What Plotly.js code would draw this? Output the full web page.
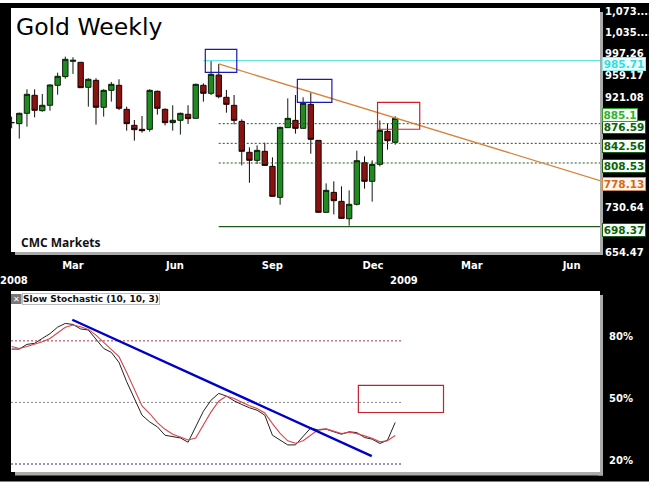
<!DOCTYPE html>
<html><head><meta charset="utf-8"><script src="https://cdn.plot.ly/plotly-3.0.1.min.js"></script>
<style>html,body{margin:0;padding:0;background:#fff;overflow:hidden}</style></head>
<body><div id="chart" style="width:660px;height:494px"></div>
<script>
const weeks=[-1,0,1,2,3,4,5,6,7,8,9,10,11,12,13,14,15,16,17,18,19,20,21,22,23,24,25,26,27,28,29,30,31,32,33,34,35,36,37,38,39,40,41,42,43,44,45,46,47,48,49];
const openP=[878.4,876.6,894.5,925.7,899.1,908.4,943,958,984.5,982.8,939.5,951.6,904.9,934.3,943,901.4,873.7,866.8,866.8,932.6,901.4,878.4,882.4,892.8,885.9,943,929.1,960.8,922.2,908.3,880.6,827,813.1,828.7,802.7,749.1,869.7,882.3,868.5,910,847.7,723.1,757.7,742.1,712.1,737,809,776.8,806.2,863.3,844.3];
const highP=[888.7,895.7,936.1,936.1,928,944.7,964.9,992.6,991.5,983.4,955.1,955.1,936.1,948.8,953.4,906,883,889.9,936.1,933.8,903.2,908.4,895.7,908.4,945.9,946.4,986.8,979.9,934.9,926.2,884.1,835.6,839.1,843.7,818.3,871.4,920.4,926.2,922.2,930.2,847.7,773.3,776.8,768.1,761.2,829.8,820,813.1,882.3,877.2,889.3];
const lowP=[868.6,850.7,871.4,887.6,897.4,899.1,926.8,954.5,962.6,938.9,906,874.9,888.8,914.7,900.3,864.5,847.2,861,862.8,892.2,873.7,864.5,857.6,876,885.3,914.7,926.2,920.4,895.6,875.4,804.4,774.4,806.8,804.4,750.2,736.4,869.7,859.3,868.5,824.6,723.1,723.1,719.6,712.1,700,735.2,764.1,741.6,802.7,831.6,840.2];
const closeP=[878.4,894.5,927.4,899.7,908.4,943.6,958.6,988,986.3,938.9,953.4,904.9,934.3,944.7,903.2,876.6,866.2,864.5,934.3,903.2,878.4,882.4,894.5,885.3,944.7,929.1,962,923.3,910,882.3,828.7,813.1,830.4,804.4,750.8,870.2,885.8,868.5,911.8,849.5,723.1,761.2,743.3,712.7,737,812.5,776.8,806.2,865,847.1,885.8];
const stochK=[76,76,78.3,78.8,81.2,83.5,86.7,88.5,88,85.8,85.3,80.9,76.3,74.4,69.5,60.1,51.9,43.8,40.5,38.1,34,33.5,32.7,30.6,38.1,45.7,51.1,54.4,53.1,50.8,49,47.4,46.2,43.8,34,31.6,29.3,29.3,33.5,37.6,36.5,37,35.7,34.5,35.7,35.3,32.9,32.1,30,31.6,40.2];
const stochD=[77.3,76.3,77.3,78.3,79.6,81.2,84,86.6,87.7,86.9,85.6,82.8,79.3,76,72.3,64.6,56.5,48.3,44.6,40.2,36.9,34.5,33.2,31.7,32.7,38.9,45.4,50.6,53.1,51.9,50,48.4,47,44.9,39.7,34.9,31.3,30.1,31.3,34,36.8,37.1,36,34.8,35.5,34.8,33.7,32.6,30.8,31.3,33.9];
const monthTickVals=[7,20.3,33,46.1,59,72];
const monthTickText=['Mar','Jun','Sep','Dec','Mar','Jun'];
const priceTickVals=[1071.6,1033.6,997.26,959.17,921.08,730.64,654.47];
const priceTickText=['1,073....','1,035....','997.26','959.17','921.08','730.64','654.47'];
const stochTickVals=[80,50,20];
const stochTickText=['80%','50%','20%'];
const dashedLevels=[876.59,842.56,808.53];
const resistance=985.71, support=698.37, trendEnd=778.13, trendStart=979.9, lastPrice=885.1;
const xLeft=-1.08, xRight=75.7;

const WHITE='#ffffff';
const PX=(a)=>a/660, PY=(a)=>1-a/494;
const hl={mode:'lines',hoverinfo:'skip',showlegend:false};
const traces=[
 {type:'candlestick',x:weeks,open:openP,high:highP,low:lowP,close:closeP,xaxis:'x',yaxis:'y',hoverinfo:'skip',showlegend:false,whiskerwidth:0,
  increasing:{line:{color:'#0b1f0b',width:1},fillcolor:'#1f8a1f'},decreasing:{line:{color:'#1a0505',width:1},fillcolor:'#8c1212'}},
 {...hl,x:[24,xRight],y:[resistance,resistance],line:{color:'#66e6e6',width:1.2},xaxis:'x',yaxis:'y'},
 ...dashedLevels.map(v=>({...hl,x:[26,xRight],y:[v,v],line:{color:'#1e5a1e',width:1,dash:'2px 2px'},xaxis:'x',yaxis:'y'})),
 {...hl,x:[26,xRight],y:[support,support],line:{color:'#1e5a1e',width:1.2},xaxis:'x',yaxis:'y'},
 {...hl,x:[26,xRight],y:[trendStart,trendEnd],line:{color:'#d5853f',width:1.3},xaxis:'x',yaxis:'y'},
 {...hl,x:[-1.08,50],y:[80,80],line:{color:'#b03040',width:1,dash:'2px 2px'},xaxis:'x2',yaxis:'y2'},
 {...hl,x:[-1.08,50],y:[50,50],line:{color:'#888888',width:1,dash:'2px 2px'},xaxis:'x2',yaxis:'y2'},
 {...hl,x:[-1.08,50],y:[20,20],line:{color:'#30307a',width:1,dash:'2px 2px'},xaxis:'x2',yaxis:'y2'},
 {...hl,x:weeks,y:stochK,line:{color:'#222222',width:1},xaxis:'x2',yaxis:'y2'},
 {...hl,x:weeks,y:stochD,line:{color:'#d9434f',width:1.1},xaxis:'x2',yaxis:'y2'},
 {...hl,x:[6.91,45.95],y:[90.3,23.8],line:{color:'#0000c8',width:2.4},xaxis:'x2',yaxis:'y2'}
];
const paperRect=(x0,x1,y0,y1,c)=>({type:'rect',xref:'paper',yref:'paper',x0:PX(x0),x1:PX(x1),y0:PY(y0),y1:PY(y1),fillcolor:c,line:{width:0},layer:'below'});
const box=(x0,x1,y0,y1,c,ax,ay)=>({type:'rect',xref:ax,yref:ay,x0,x1,y0,y1,line:{color:c,width:1.2},fillcolor:'rgba(0,0,0,0)'});
const shapes=[
 paperRect(0,649,3,481.5,'#000000'),
 paperRect(15,603,245,255,'#aaaaaa'),
 paperRect(598,603,12,255,'#aaaaaa'),
 paperRect(15,603,465,475.5,'#aaaaaa'),
 paperRect(598,603,295,475.5,'#aaaaaa'),
 paperRect(11,600,8,252,'#ffffff'),
 paperRect(11,600,291,472,'#ffffff'),
 box(24.25,28.35,965.5,1005.3,'#1a1ab4','x','y'),
 box(36.25,40.75,913.6,953.4,'#1a1ab4','x','y'),
 box(46.7,52.2,866.9,913.6,'#d01f2a','x','y'),
 box(44.2,55.3,45.1,58.3,'#c8202a','x2','y2'),
 {type:'rect',xref:'paper',yref:'paper',x0:PX(11),x1:PX(21.5),y0:PY(294),y1:PY(304),fillcolor:'#777777',line:{width:0}}
];
const tag=(v,txt,shift,width,color,bg,border)=>({xref:'paper',yref:'y',x:PX(601.5),xanchor:'left',y:v,yshift:shift,text:'<b>'+txt+'</b>',showarrow:false,width,height:11,borderpad:0.5,borderwidth:1,align:'center',bgcolor:bg,bordercolor:border,font:{family:'DejaVu Sans',size:10.5,color}});
const white=(x,y,t,xr)=>({xref:xr||'paper',yref:'paper',x,y:PY(y),text:'<b>'+t+'</b>',showarrow:false,xanchor:'center',yanchor:'middle',font:{family:'DejaVu Sans',size:10,color:WHITE}});
const annotations=[
 tag(resistance,resistance.toFixed(2),-3,41,'#38dcdc','#eaffff','#88eeee'),
 tag(dashedLevels[0],'876.59',-3,41,'#0f5f0f','#f6fff6','#1e5a1e'),
 tag(lastPrice,'885.1',4,33,'#35b035','#f2fff2','#2ea02e'),
 tag(dashedLevels[1],'842.56',-3,41,'#0f5f0f','#f6fff6','#1e5a1e'),
 tag(dashedLevels[2],'808.53',-3,41,'#0f5f0f','#f6fff6','#1e5a1e'),
 tag(trendEnd,'778.13',-3,41,'#d06a20','#fff6ee','#d08a50'),
 tag(support,'698.37',-3,41,'#0f5f0f','#f6fff6','#1e5a1e'),
 white(PX(13.5),280,'2008'),
 white(PX(404),280,'2009'),
 {xref:'paper',yref:'paper',x:PX(18.5),y:PY(243),xanchor:'left',yanchor:'middle',text:'<b>CMC Markets</b>',showarrow:false,font:{family:'Open Sans',size:12,color:'#111111'}},
 {xref:'paper',yref:'paper',x:PX(22),y:PY(299),xanchor:'left',yanchor:'middle',text:'<b>Slow Stochastic (10, 10, 3)</b>',showarrow:false,bgcolor:'#ffffff',bordercolor:'#bbbbbb',borderwidth:1,borderpad:0,font:{family:'DejaVu Sans',size:9,color:'#111111'}},
 {xref:'paper',yref:'paper',x:PX(16.2),y:PY(299),xanchor:'center',yanchor:'middle',text:'<b>✕</b>',showarrow:false,font:{family:'DejaVu Sans',size:8,color:'#ffffff'}}
];
const layout={
 width:660,height:494,margin:{l:0,r:0,t:0,b:0},paper_bgcolor:'#ffffff',plot_bgcolor:'rgba(0,0,0,0)',showlegend:false,boxgap:0.3,boxgroupgap:0,
 title:{text:'Gold Weekly',x:PX(16),xanchor:'left',y:PY(27),yanchor:'middle',font:{family:'DejaVu Sans',size:23.5,color:'#000000'}},
 xaxis:{domain:[PX(11),PX(600)],range:[xLeft,xRight],anchor:'y',tickmode:'array',tickvals:monthTickVals,ticktext:monthTickText.map(t=>'<b>'+t+'</b>'),tickfont:{family:'DejaVu Sans',size:10,color:WHITE},showgrid:false,zeroline:false,showline:false,ticks:'',ticklabelstandoff:6,rangeslider:{visible:false},fixedrange:true},
 yaxis:{domain:[PY(252),PY(8)],range:[654.47,1076.8],anchor:'x',side:'right',tickmode:'array',tickvals:priceTickVals,ticktext:priceTickText.map(t=>'<b>'+t+'</b>'),tickfont:{family:'DejaVu Sans',size:10,color:WHITE},showgrid:false,zeroline:false,showline:false,ticks:'',ticklabelstandoff:4,fixedrange:true},
 xaxis2:{domain:[PX(11),PX(600)],range:[xLeft,xRight],anchor:'y2',showticklabels:false,showgrid:false,zeroline:false,showline:false,ticks:'',fixedrange:true},
 yaxis2:{domain:[PY(472),PY(291)],range:[16.1,104.3],anchor:'x2',side:'right',tickmode:'array',tickvals:stochTickVals,ticktext:stochTickText.map(t=>'<b>'+t+'</b>'),tickfont:{family:'DejaVu Sans',size:10,color:WHITE},showgrid:false,zeroline:false,showline:false,ticks:'',ticklabelstandoff:8,ticklabelshift:-4,fixedrange:true},
 shapes,annotations
};
Plotly.newPlot('chart',traces,layout,{displayModeBar:false,staticPlot:true});
</script></body></html>
